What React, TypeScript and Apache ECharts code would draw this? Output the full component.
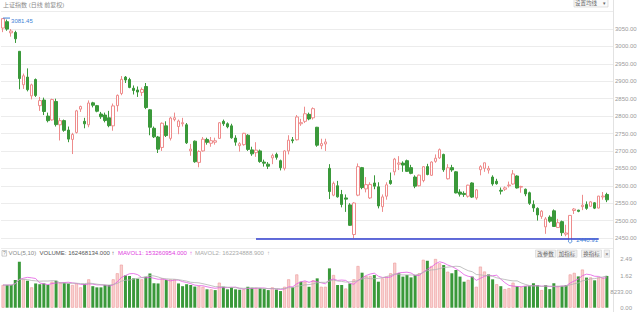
import React, { useEffect, useRef } from 'react';
import * as echarts from 'echarts';

const dates = [
  '2018-06-12','2018-06-13','2018-06-14','2018-06-15','2018-06-19','2018-06-20','2018-06-21','2018-06-22','2018-06-25','2018-06-26','2018-06-27','2018-06-28','2018-06-29',
  '2018-07-02','2018-07-03','2018-07-04','2018-07-05','2018-07-06','2018-07-09','2018-07-10','2018-07-11','2018-07-12','2018-07-13','2018-07-16','2018-07-17','2018-07-18','2018-07-19','2018-07-20','2018-07-23','2018-07-24','2018-07-25','2018-07-26','2018-07-27','2018-07-30','2018-07-31',
  '2018-08-01','2018-08-02','2018-08-03','2018-08-06','2018-08-07','2018-08-08','2018-08-09','2018-08-10','2018-08-13','2018-08-14','2018-08-15','2018-08-16','2018-08-17','2018-08-20','2018-08-21','2018-08-22','2018-08-23','2018-08-24','2018-08-27','2018-08-28','2018-08-29','2018-08-30','2018-08-31',
  '2018-09-03','2018-09-04','2018-09-05','2018-09-06','2018-09-07','2018-09-10','2018-09-11','2018-09-12','2018-09-13','2018-09-14','2018-09-17','2018-09-18','2018-09-19','2018-09-20','2018-09-21','2018-09-25','2018-09-26','2018-09-27','2018-09-28',
  '2018-10-08','2018-10-09','2018-10-10','2018-10-11','2018-10-12','2018-10-15','2018-10-16','2018-10-17','2018-10-18','2018-10-19','2018-10-22','2018-10-23','2018-10-24','2018-10-25','2018-10-26','2018-10-29','2018-10-30','2018-10-31',
  '2018-11-01','2018-11-02','2018-11-05','2018-11-06','2018-11-07','2018-11-08','2018-11-09','2018-11-12','2018-11-13','2018-11-14','2018-11-15','2018-11-16','2018-11-19','2018-11-20','2018-11-21','2018-11-22','2018-11-23','2018-11-26','2018-11-27','2018-11-28','2018-11-29','2018-11-30',
  '2018-12-03','2018-12-04','2018-12-05','2018-12-06','2018-12-07','2018-12-10','2018-12-11','2018-12-12','2018-12-13','2018-12-14','2018-12-17','2018-12-18','2018-12-19','2018-12-20','2018-12-21','2018-12-24','2018-12-25','2018-12-26','2018-12-27','2018-12-28',
  '2019-01-02','2019-01-03','2019-01-04','2019-01-07','2019-01-08','2019-01-09','2019-01-10','2019-01-11','2019-01-14','2019-01-15','2019-01-16','2019-01-17',
];

const opens = [
  3052.8, 3071, 3039, 3040, 2986, 2890, 2912, 2858, 2905, 2830,
  2846, 2800, 2789, 2842, 2775, 2787, 2760, 2733, 2753, 2820,
  2785, 2775, 2838, 2830, 2806, 2803, 2795, 2772, 2830, 2865,
  2912, 2905, 2880, 2875, 2868, 2885, 2818, 2765, 2740, 2710,
  2772, 2736, 2790, 2770, 2778, 2775, 2700, 2728, 2667, 2700,
  2733, 2722, 2725, 2736, 2785, 2778, 2772, 2737, 2715, 2718,
  2745, 2703, 2695, 2700, 2668, 2662, 2680, 2690, 2672, 2650,
  2700, 2732, 2732, 2778, 2785, 2805, 2795, 2768, 2715, 2720,
  2650, 2573, 2600, 2575, 2565, 2545, 2460, 2573, 2652, 2591,
  2565, 2608, 2597, 2540, 2570, 2615, 2640, 2662, 2665, 2672,
  2652, 2625, 2600, 2615, 2655, 2630, 2670, 2680, 2690, 2620,
  2652, 2640, 2582, 2578, 2570, 2608, 2565, 2646, 2650, 2645,
  2625, 2613, 2587, 2590, 2600, 2605, 2628, 2596, 2590, 2580,
  2546, 2535, 2512, 2482, 2510, 2528, 2480, 2497, 2461, 2446,
  2529, 2530, 2540, 2546, 2541, 2551, 2536, 2568, 2575,
];

const closes = [
  3079.80, 3049.80, 3044.16, 3021.90, 2907.82, 2915.73, 2875.81, 2889.76, 2859.34, 2844.51,
  2813.18, 2786.90, 2847.42, 2775.56, 2786.89, 2759.13, 2733.88, 2747.23, 2815.11, 2827.63,
  2777.77, 2837.66, 2831.18, 2814.04, 2798.13, 2787.26, 2772.55, 2829.27, 2859.54, 2905.56,
  2903.65, 2882.23, 2873.59, 2869.05, 2876.40, 2824.53, 2768.02, 2740.44, 2705.16, 2779.37,
  2744.07, 2794.38, 2795.31, 2785.87, 2780.96, 2723.26, 2705.19, 2668.97, 2698.47, 2733.69,
  2724.62, 2729.43, 2729.24, 2780.90, 2777.98, 2769.30, 2737.74, 2725.25, 2720.73, 2750.58,
  2704.34, 2691.59, 2702.30, 2669.48, 2664.80, 2656.11, 2686.58, 2681.64, 2651.79, 2699.95,
  2730.85, 2729.24, 2797.49, 2781.14, 2806.81, 2791.77, 2821.35, 2716.51, 2721.01, 2725.84,
  2583.46, 2606.91, 2568.10, 2546.33, 2561.61, 2486.42, 2550.47, 2654.88, 2594.83, 2603.30,
  2603.80, 2598.85, 2542.10, 2568.05, 2602.78, 2606.24, 2676.48, 2665.43, 2659.36, 2641.34,
  2635.63, 2598.87, 2630.52, 2654.88, 2632.24, 2668.17, 2679.11, 2703.51, 2645.85, 2651.51,
  2645.43, 2579.48, 2575.81, 2574.68, 2601.74, 2567.44, 2588.19, 2654.80, 2665.96, 2649.81,
  2605.18, 2605.89, 2584.58, 2594.09, 2602.15, 2634.05, 2593.74, 2597.97, 2576.65, 2549.56,
  2536.27, 2516.25, 2527.01, 2504.82, 2498.29, 2483.09, 2493.90, 2465.29, 2464.36, 2514.87,
  2533.09, 2526.46, 2544.34, 2535.10, 2553.83, 2535.77, 2570.34, 2570.42, 2559.64,
];

const lows = [
  3041, 3045, 3028, 3010, 2877, 2878, 2871, 2848, 2855, 2815,
  2803, 2782, 2787, 2770, 2730, 2755, 2725, 2691, 2750, 2812,
  2765, 2768, 2825, 2811, 2792, 2782, 2768, 2758, 2813, 2860,
  2895, 2880, 2862, 2855, 2858, 2820, 2745, 2737, 2694, 2700,
  2740, 2730, 2785, 2748, 2770, 2720, 2686, 2666, 2653, 2698,
  2718, 2712, 2718, 2735, 2772, 2765, 2735, 2715, 2698, 2715,
  2700, 2686, 2683, 2666, 2655, 2648, 2662, 2675, 2644, 2644,
  2690, 2722, 2730, 2772, 2780, 2788, 2790, 2712, 2705, 2700,
  2562, 2570, 2566, 2538, 2525, 2485, 2449.20, 2570, 2590, 2581,
  2562, 2590, 2535, 2525, 2560, 2603, 2630, 2645, 2640, 2640,
  2633, 2593, 2598, 2610, 2630, 2628, 2666, 2677, 2640, 2618,
  2640, 2578, 2569, 2568, 2566, 2565, 2560, 2630, 2640, 2635,
  2600, 2603, 2575, 2585, 2595, 2603, 2592, 2580, 2570, 2545,
  2525, 2500, 2505, 2462, 2494, 2483, 2480, 2456, 2455, 2440.91,
  2519, 2524, 2530, 2531, 2540, 2533, 2535, 2560, 2553,
];

const highs = [
  3081.45, 3077, 3050, 3045, 2986, 2922, 2937, 2893, 2908, 2855,
  2853, 2810, 2850, 2850, 2795, 2790, 2770, 2752, 2818, 2830,
  2795, 2845, 2841, 2832, 2812, 2810, 2815, 2836, 2862, 2915,
  2915, 2910, 2888, 2885, 2882, 2895, 2820, 2770, 2743, 2782,
  2785, 2798, 2810, 2790, 2795, 2780, 2720, 2730, 2702, 2740,
  2738, 2740, 2738, 2783, 2790, 2782, 2778, 2745, 2725, 2752,
  2748, 2712, 2725, 2704, 2675, 2668, 2692, 2695, 2675, 2702,
  2745, 2740, 2803, 2792, 2827, 2810, 2825, 2769, 2735, 2735,
  2662, 2612, 2614, 2588, 2575, 2550, 2553, 2664, 2654, 2625,
  2610, 2630, 2610, 2575, 2610, 2638, 2680, 2685, 2670, 2675,
  2660, 2630, 2632, 2656, 2663, 2670, 2690, 2707, 2692, 2662,
  2660, 2642, 2590, 2584, 2603, 2610, 2590, 2659, 2666, 2657,
  2630, 2620, 2595, 2598, 2612, 2645, 2630, 2600, 2592, 2583,
  2558, 2538, 2530, 2510, 2515, 2532, 2505, 2500, 2488, 2515,
  2536, 2531, 2574, 2555, 2556, 2553, 2571, 2582, 2580,
];

// volume in 亿 (1e8)
const volumes = [
  1.16, 1.16, 1.16, 1.42, 2.35, 1.45, 1.38, 1.04, 1.24, 1.20,
  1.24, 1.16, 1.33, 1.38, 1.28, 1.28, 1.24, 1.16, 1.24, 1.04,
  1.20, 1.45, 1.10, 1.04, 1.04, 1.16, 1.16, 1.45, 1.76, 2.20,
  1.65, 1.62, 1.50, 1.48, 1.45, 1.58, 1.75, 1.25, 1.24, 1.50,
  1.42, 1.45, 1.45, 1.24, 1.10, 1.20, 1.16, 1.08, 1.10, 1.07,
  0.94, 0.94, 0.90, 1.28, 1.07, 0.94, 1.04, 0.94, 0.92, 0.94,
  1.07, 1.02, 1.00, 1.00, 0.95, 0.90, 1.04, 0.93, 0.85, 1.07,
  1.45, 1.05, 1.70, 1.33, 1.33, 1.07, 1.40, 1.50, 1.07, 1.07,
  2.01, 1.67, 1.16, 1.16, 0.98, 1.24, 1.45, 2.13, 1.79, 1.62,
  1.62, 1.67, 1.33, 1.50, 1.59, 1.76, 2.30, 1.76, 1.59, 1.67,
  1.55, 1.67, 1.76, 2.45, 2.40, 2.13, 2.49, 2.27, 2.18, 1.84,
  1.76, 1.93, 1.59, 1.33, 1.42, 1.59, 1.07, 2.10, 1.85, 1.70,
  1.45, 1.20, 1.10, 0.95, 1.00, 1.28, 1.10, 1.05, 1.10, 1.10,
  1.25, 1.15, 0.90, 1.15, 0.95, 1.25, 1.10, 1.10, 1.15, 1.70,
  1.78, 1.60, 1.95, 1.54, 1.55, 1.40, 1.55, 1.53, 1.62468134,
];

const priceTickStep = 50;
const volumeTickValues = [0, 0.8233, 1.62, 2.49];
const volumeTickLabels = ['0.00', '8233.00', '1.62', '2.49'];
const maxLabel = '3081.45';
const minLabel = '2440.91';
const supportLevel = 2449.2;
const title = '上证指数 (日线 前复权)';
const legendTexts = {
  vol: 'VOL(5,10)',
  volume: 'VOLUME: 162468134.000',
  ma1: 'MAVOL1: 153260954.000',
  ma2: 'MAVOL2: 162234888.900',
};
const buttons = ['改参数', '加指标', '换指标', '×'];

const FONT = '"Liberation Sans", "Noto Sans CJK SC", sans-serif';
const RED = '#ee8c8c';
const GREEN = '#3a993a';
const BLUE = '#3d7fd6';

export default function App() {
  const ref = useRef<HTMLDivElement>(null);
  useEffect(() => {
    const chart = echarts.init(ref.current as HTMLDivElement, null, { renderer: 'svg' });
    const cats = [...dates, ''];
    const candle = dates.map((_, i) => [opens[i], closes[i], lows[i], highs[i]]);
    const volData = volumes.map((v, i) => {
      const up = i === 0 ? true : closes[i] >= closes[i - 1];
      return {
        value: v,
        itemStyle: up
          ? { color: '#f9cfcf', borderColor: '#ec9a9a', borderWidth: 0.6 }
          : { color: GREEN, borderColor: GREEN, borderWidth: 0 },
      };
    });
    const ma = (n: number) =>
      volumes.map((_, i) => {
        const s = Math.max(0, i - n + 1);
        let sum = 0;
        for (let k = s; k <= i; k++) sum += volumes[k];
        return +(sum / (i - s + 1)).toFixed(4);
      });

    const txt = (x: number, y: number, text: string, fill: string, fontSize = 6, align = 'left') => ({
      type: 'text',
      x,
      y,
      silent: true,
      style: { text, fill, fontSize, fontFamily: FONT, verticalAlign: 'middle', align },
    });

    const btnBoxes = [
      [535.5, 20],
      [557, 20],
      [581.5, 20],
      [604.2, 5.3],
    ];
    const btnGraphics: any[] = [];
    buttons.forEach((b, i) => {
      const [bx, bw] = btnBoxes[i];
      btnGraphics.push({
        type: 'rect',
        silent: true,
        shape: { x: bx, y: 250, width: bw, height: 7.3 },
        style: { fill: '#f1f1f1', stroke: '#d2d2d2', lineWidth: 0.6 },
      });
      btnGraphics.push(txt(bx + bw / 2, 253.8, b, '#666', 5.5, 'center'));
    });

    chart.setOption({
      animation: false,
      backgroundColor: '#ffffff',
      textStyle: { fontFamily: FONT },
      grid: [
        { left: 1, width: 612, top: 11.6, height: 236.4 },
        { left: 1, width: 612, top: 259, height: 48.7 },
      ],
      xAxis: [
        { type: 'category', data: cats, gridIndex: 0, boundaryGap: true, show: false },
        { type: 'category', data: cats, gridIndex: 1, boundaryGap: true, show: false },
      ],
      yAxis: [
        {
          type: 'value',
          gridIndex: 0,
          position: 'right',
          min: 2421.3,
          max: 3100,
          splitNumber: Math.round((3100 - 2421.3) / priceTickStep) - 1,
          axisLine: { show: true, lineStyle: { color: '#e2e2e2', width: 1 } },
          axisTick: { show: false },
          axisLabel: {
            color: '#9a9a9a',
            fontSize: 6,
            margin: 2,
            showMinLabel: false,
            showMaxLabel: false,
            formatter: (v: number) => v.toFixed(2),
          },
          splitLine: { show: true, lineStyle: { color: '#ececec', width: 1 } },
        },
        {
          type: 'value',
          gridIndex: 1,
          position: 'right',
          min: 0,
          max: 2.49,
          axisLine: { show: true, lineStyle: { color: '#e2e2e2', width: 1 } },
          axisTick: { show: false },
          splitLine: { show: false },
          axisLabel: {
            customValues: volumeTickValues,
            color: '#9a9a9a',
            fontSize: 6,
            align: 'right',
            margin: 19,
            formatter: (v: number) => {
              let best = 0;
              volumeTickValues.forEach((t, k) => {
                if (Math.abs(t - v) < Math.abs(volumeTickValues[best] - v)) best = k;
              });
              return volumeTickLabels[best];
            },
          },
        },
      ],
      series: [
        {
          type: 'candlestick',
          xAxisIndex: 0,
          yAxisIndex: 0,
          data: candle,
          barWidth: 3,
          itemStyle: {
            color: '#ffffff',
            borderColor: RED,
            color0: GREEN,
            borderColor0: GREEN,
            borderWidth: 1,
          },
          markPoint: {
            silent: true,
            data: [
              {
                coord: [dates[0], highs[0]],
                symbol: 'rect',
                symbolSize: [7, 1],
                symbolOffset: [3.5, 0],
                itemStyle: { color: BLUE },
                label: {
                  show: true,
                  position: 'right',
                  distance: 1,
                  offset: [0, 2.5],
                  formatter: maxLabel,
                  color: BLUE,
                  fontSize: 6,
                  fontFamily: FONT,
                },
              },
              {
                coord: [dates[139], lows[139]],
                symbol: 'circle',
                symbolSize: 3.5,
                itemStyle: { color: '#ffffff', borderColor: BLUE, borderWidth: 0.8 },
                label: {
                  show: true,
                  position: 'right',
                  distance: 4,
                  offset: [0, -1],
                  formatter: minLabel,
                  color: BLUE,
                  fontSize: 6,
                  fontFamily: FONT,
                },
              },
            ],
          },
          markLine: {
            silent: true,
            symbol: ['none', 'none'],
            label: { show: false },
            lineStyle: { color: '#2f3ccf', width: 1.5, type: 'solid' },
            data: [[{ coord: [dates[62], supportLevel] }, { coord: [dates[146], supportLevel] }]],
          },
        },
        {
          type: 'bar',
          xAxisIndex: 1,
          yAxisIndex: 1,
          data: volData,
          barWidth: 3,
        },
        {
          type: 'line',
          xAxisIndex: 1,
          yAxisIndex: 1,
          data: ma(5),
          showSymbol: false,
          silent: true,
          lineStyle: { color: '#e35be3', width: 0.8 },
        },
        {
          type: 'line',
          xAxisIndex: 1,
          yAxisIndex: 1,
          data: ma(10),
          showSymbol: false,
          silent: true,
          lineStyle: { color: '#b3b3b3', width: 0.8 },
        },
      ],
      graphic: [
        {
          type: 'line',
          silent: true,
          shape: { x1: 613.5, y1: 0, x2: 613.5, y2: 312 },
          style: { stroke: '#e2e2e2', lineWidth: 1 },
        },
        txt(3, 5, title, '#8a8a8a', 6),
        {
          type: 'rect',
          silent: true,
          shape: { x: 574, y: -1, width: 34, height: 8 },
          style: { fill: '#fafafa', stroke: '#cfcfcf', lineWidth: 0.6 },
        },
        txt(586, 3.2, '设置均线', '#666', 5.5, 'center'),
        txt(604, 3.2, '▾', '#666', 5, 'center'),
        {
          type: 'rect',
          silent: true,
          shape: { x: 2, y: 250.5, width: 4.6, height: 5.6 },
          style: { fill: '#ffffff', stroke: '#aaaaaa', lineWidth: 0.6 },
        },
        txt(4.3, 253.4, '?', '#888', 5, 'center'),
        txt(8.5, 253.3, legendTexts.vol, '#888', 6),
        txt(39.5, 253.3, legendTexts.volume, '#555', 6),
        txt(111.5, 253.3, '↑', '#555', 6),
        txt(118, 253.3, legendTexts.ma1, '#e040e0', 6),
        txt(189.5, 253.3, '↑', '#e040e0', 6),
        txt(195, 253.3, legendTexts.ma2, '#aaaaaa', 6),
        txt(267, 253.3, '↑', '#aaaaaa', 6),
        ...btnGraphics,
      ],
    });
    return () => chart.dispose();
  }, []);
  return (
    <div
      ref={ref}
      style={{ position: 'fixed', left: 0, top: 0, width: 640, height: 312, background: '#fff' }}
    />
  );
}
